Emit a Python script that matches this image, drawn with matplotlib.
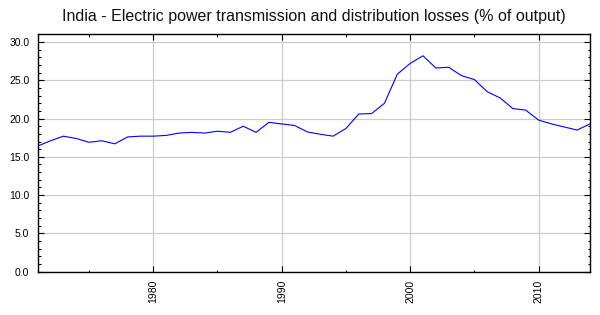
import matplotlib
matplotlib.use('Agg')
import matplotlib.pyplot as plt
from matplotlib.ticker import MultipleLocator, FormatStrFormatter

plt.rcParams['font.family'] = ['Liberation Sans', 'DejaVu Sans']

years = list(range(1971, 2015))
losses = [16.4, 17.1, 17.7, 17.4, 16.9, 17.1, 16.7, 17.6, 17.7, 17.7,
          17.8, 18.1, 18.2, 18.1, 18.35, 18.2, 19.0, 18.2, 19.5, 19.3,
          19.1, 18.25, 17.95, 17.7, 18.7, 20.6, 20.65, 22.0, 25.8, 27.2,
          28.2, 26.6, 26.7, 25.6, 25.1, 23.5, 22.7, 21.3, 21.1, 19.8,
          19.3, 18.9, 18.5, 19.3]
title = 'India - Electric power transmission and distribution losses (% of output)'

fig = plt.figure(figsize=(6, 3.15), dpi=100)
ax = fig.add_axes([0.0628, 0.1375, 0.9205, 0.7535])

ax.plot(years, losses, color='#0000ff', linewidth=0.8)

ax.set_xlim(1971, 2014)
ax.set_ylim(0, 31)
ax.xaxis.set_major_locator(MultipleLocator(10))
ax.xaxis.set_minor_locator(MultipleLocator(5))
ax.yaxis.set_major_locator(MultipleLocator(5))
ax.yaxis.set_minor_locator(MultipleLocator(1))
ax.yaxis.set_major_formatter(FormatStrFormatter('%.1f'))

ax.grid(True, which='major', color='#cccccc', linewidth=0.9)
ax.set_axisbelow(True)
ax.tick_params(which='both', direction='in', top=True, right=True,
               labelsize=7.5, color='black', width=0.8)
ax.tick_params(which='major', length=4.5)
ax.tick_params(which='minor', length=1.8)
ax.tick_params(axis='y', which='major', pad=6)
ax.tick_params(axis='x', which='major', pad=6)
plt.setp(ax.get_xticklabels(), rotation=90)
for s in ax.spines.values():
    s.set_linewidth(1.0)

fig.suptitle(title, fontsize=11.5, x=0.523, y=0.97, color='#111111')

fig.savefig('out.png', dpi=100)
